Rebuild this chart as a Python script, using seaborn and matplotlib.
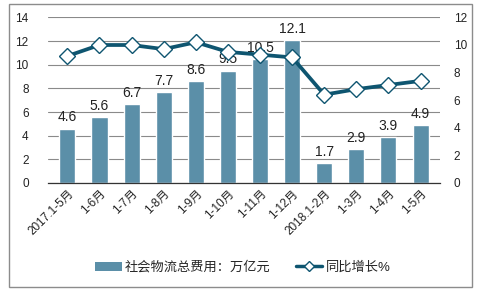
import matplotlib as mtl
mtl.use('Agg')
import matplotlib.pyplot as plt
import numpy as np
import pandas as pd
import seaborn as sns
from matplotlib.patches import Patch
from matplotlib.lines import Line2D

# data
periods = ["2017.1-5月", "1-6月", "1-7月", "1-8月", "1-9月", "1-10月",
           "1-11月", "1-12月", "2018.1-2月", "1-3月", "1-4月", "1-5月"]
cost = [4.6, 5.6, 6.7, 7.7, 8.6, 9.5, 10.5, 12.1, 1.7, 2.9, 3.9, 4.9]
growth = [9.2, 10.0, 10.0, 9.7, 10.2, 9.5, 9.3, 9.1, 6.4, 6.8, 7.1, 7.4]
bar_name = "社会物流总费用：万亿元"
line_name = "同比增长%"

bar_color = "#5B8FA8"
line_color = "#0E5570"

sns.set_style("white")
plt.rcParams['font.family'] = ['Liberation Sans', 'Noto Sans CJK SC', 'DejaVu Sans']

df = pd.DataFrame({"period": periods, "cost": cost, "growth": growth})

fig = plt.figure(figsize=(4.86, 2.9), dpi=100)
ax = fig.add_axes([0.099, 0.369, 0.806, 0.571])
sns.barplot(data=df, x="period", y="cost", color=bar_color, width=0.5,
            saturation=1, ax=ax, zorder=2)
ax.set_ylim(0, 14)
ax.set_yticks(np.arange(0, 15, 2))
ax.yaxis.grid(True, color="#8a8a8a", linewidth=0.8, zorder=0)
ax.set_axisbelow(True)
ax.set_xlabel("")
ax.set_ylabel("")
for s in ["top", "right", "left"]:
    ax.spines[s].set_visible(False)
ax.spines["bottom"].set_color("#333333")
ax.spines["bottom"].set_linewidth(0.9)
ax.tick_params(axis="both", length=0, labelsize=8.5, colors="#222222")
ax.tick_params(axis="y", pad=14)
ax.set_xticks(range(len(periods)))
ax.set_xticklabels(periods, rotation=45, ha="right", rotation_mode="anchor", fontsize=8.5)
ax.set_xlim(-0.6, len(periods) - 0.4)

for i, v in enumerate(cost):
    ax.text(i, v + 0.35, f"{v}", ha="center", va="bottom", fontsize=10, color="#222222", zorder=3)

ax2 = ax.twinx()
sns.lineplot(x=np.arange(len(periods)), y=growth, ax=ax2, color=line_color,
             linewidth=2.7, marker="D", markersize=8, markerfacecolor="white",
             markeredgecolor=line_color, markeredgewidth=1)
ax2.set_ylim(0, 12)
ax2.set_yticks(np.arange(0, 13, 2))
for s in ["top", "right", "left", "bottom"]:
    ax2.spines[s].set_visible(False)
ax2.tick_params(axis="y", length=0, labelsize=8.5, colors="#222222", pad=10)
ax2.grid(False)

handles = [Patch(facecolor=bar_color, edgecolor="none"),
           Line2D([0], [0], color=line_color, linewidth=2.5, marker="D",
                  markersize=5.5, markerfacecolor="white", markeredgecolor=line_color)]
fig.legend(handles, [bar_name, line_name], loc="center", bbox_to_anchor=(0.5, 0.078),
           ncol=2, frameon=False, fontsize=9.5, handlelength=2.0, columnspacing=1.9,
           handletextpad=0.25)

border = plt.Rectangle((0.019, 0.01), 0.952, 0.975, transform=fig.transFigure,
                       fill=False, edgecolor="#8c8c8c", linewidth=1)
fig.patches.append(border)

fig.savefig("out.png", dpi=100)
